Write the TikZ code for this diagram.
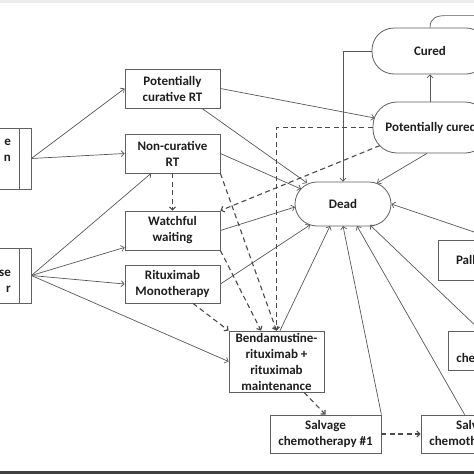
\documentclass[tikz,border=0pt]{standalone}
\usepackage{fontspec}
\setmainfont{Carlito}
\usetikzlibrary{arrows.meta,calc}
\definecolor{ln}{HTML}{585858}
\definecolor{dl}{HTML}{4A4A4A}
\definecolor{bx}{HTML}{606060}
\definecolor{tx}{HTML}{1E1E1E}
\begin{document}
\begin{tikzpicture}[x=1pt,y=-1pt,
  font=\fontsize{13}{16}\selectfont\bfseries,
  box/.style={draw=bx,line width=0.8pt,rectangle,inner sep=0pt,align=center,text=tx,minimum width=95pt,minimum height=39pt},
  state/.style={draw=bx,line width=0.8pt,rectangle,inner sep=0pt,align=center,text=tx},
  arr/.style={draw=ln,line width=0.7pt,-{Straight Barb[length=3pt,width=6pt]}},
  darr/.style={draw=dl,line width=1.1pt,dash pattern=on 5pt off 3.5pt,-{Straight Barb[length=3pt,width=6pt]}},
]
\useasboundingbox (0,0) rectangle (474,474);
\fill[white] (0,0) rectangle (474,474);
\clip (0,0) rectangle (474,474);
\fill[black!7] (0,0) rectangle (474,2.5);

% left (cut) entry boxes
\node[box,minimum width=112pt,minimum height=61pt] (l1) at (-25,158.5) {};
\draw[draw=bx,line width=0.8pt] ($(l1.north east)+(-12,0)$) -- ($(l1.south east)+(-12,0)$);
\node[anchor=east,align=right,inner sep=0pt,text=tx] (l1t) at (11,150) {e\\n};
\node[box,minimum width=112pt,minimum height=55pt] (l2) at (-25,275.5) {};
\draw[draw=bx,line width=0.8pt] ($(l2.north east)+(-12,0)$) -- ($(l2.south east)+(-12,0)$);
\node[anchor=east,align=right,inner sep=0pt,text=tx] (l2t) at (11,281) {se\\r};

% treatment boxes
\node[box] (pcrt) at (172.5,88.5) {Potentially\\curative RT};
\node[box] (ncrt) at (172.5,153.5) {Non-curative\\RT};
\node[box] (ww) at (172.5,230.5) {Watchful\\waiting};
\node[box,minimum height=38pt] (rm) at (172.5,284) {Rituximab\\Monotherapy};
\node[box,minimum height=61pt] (br) at (276.5,361.5) {Bendamustine-\\rituximab +\\rituximab\\maintenance};
\node[box,minimum width=111pt,minimum height=38pt] (s1) at (325.5,434) {Salvage\\chemotherapy \#1};
\node[box,minimum width=111pt,minimum height=38pt] (s2) at (476.5,434) {Salvage\\chemotherapy \#2};
\node[box,minimum width=111pt,minimum height=39pt] (s3) at (503.5,350.5) {Salvage\\chemotherapy \#3};
\node[box,minimum width=111pt,minimum height=40pt] (pa) at (493.5,260) {Palliative care};

% states
\node[state,rounded corners=22pt,minimum width=96pt,minimum height=44pt] (dead) at (343,204) {Dead};
\node[state,rounded corners=24pt,minimum width=116pt,minimum height=51pt] (pc) at (431,127.5) {Potentially cured};
\node[state,rounded corners=22pt,minimum width=116pt,minimum height=46pt] (cured) at (430,51) {Cured};

% solid transitions
\draw[arr] (l1.east) -- (pcrt.west);
\draw[arr] (l1.east) -- (ncrt.west);
\draw[arr] (l2.east) -- ($(ncrt.south)+(-21.5,0)$);
\draw[arr] (l2.east) -- ($(ww.south west)+(0,-3)$);
\draw[arr] (l2.east) -- (rm.west);
\draw[arr] (l2.east) -- (br.west);

\draw[arr] (pcrt.east) -- ($(pc.west)+(2,-9.5)$);
\draw[arr] ($(pcrt.south)+(29.5,0)$) -- ($(dead.center)+(-36,-21)$);
\draw[arr] (ncrt.east) -- ($(dead.center)+(-42,-15)$);
\draw[arr] (ww.east) -- ($(dead.center)+(-48,3)$);
\draw[arr] (rm.east) -- ($(dead.center)+(-33,21)$);
\draw[arr] ($(br.north)+(3.5,0)$) -- ($(dead.center)+(-13,22)$);
\draw[arr] (s1.north east) -- ($(dead.center)+(0,22)$);
\draw[arr] ($(s2.north west)+(44,0)$) -- ($(dead.center)+(14,22)$);
\draw[arr] ($(s3.north west)+(33,0)$) -- ($(dead.center)+(27,21)$);
\draw[arr] ($(pa.north)+(3,0)$) -- (dead.east);
\draw[arr] ($(pc.south)+(-4,0)$) -- ($(dead.center)+(34,-21)$);
\draw[arr] (cured.west) -| (dead.north);
\draw[arr] ($(pc.north)+(-1,0)$) -- (cured.south);
\coordinate (lpA) at ($(cured.north)+(16,-12)$);
\coordinate (lpB) at ($(cured.north)+(55,-12)$);
\draw[arr] (cured.north) .. controls ($(cured.north)+(0,-10)$) and ($(lpA)+(-9,0)$) .. (lpA) -- (lpB) .. controls ($(lpB)+(15,0)$) and ($(cured.east)+(10,0)$) .. (cured.east);

% dashed transitions
\draw[darr] ($(pc.center)+(-51,18)$) -- (ww.north east);
\draw[darr] (pc.west) -| (br.north);
\draw[darr] (ncrt.south) -- (ww.north);
\draw[darr] (ncrt.south east) -- (br.north);
\draw[darr] (ww.south east) -- ($(br.north)+(-15.5,0)$);
\draw[darr] ($(rm.south)+(20.5,0)$) -- (br.north west);
\draw[darr] ($(br.south)+(27.5,0)$) -- (s1.north);
\draw[darr] (s1.east) -- (s2.west);

\fill[black!75] (0,470.5) rectangle (474,474);
\end{tikzpicture}
\end{document}
